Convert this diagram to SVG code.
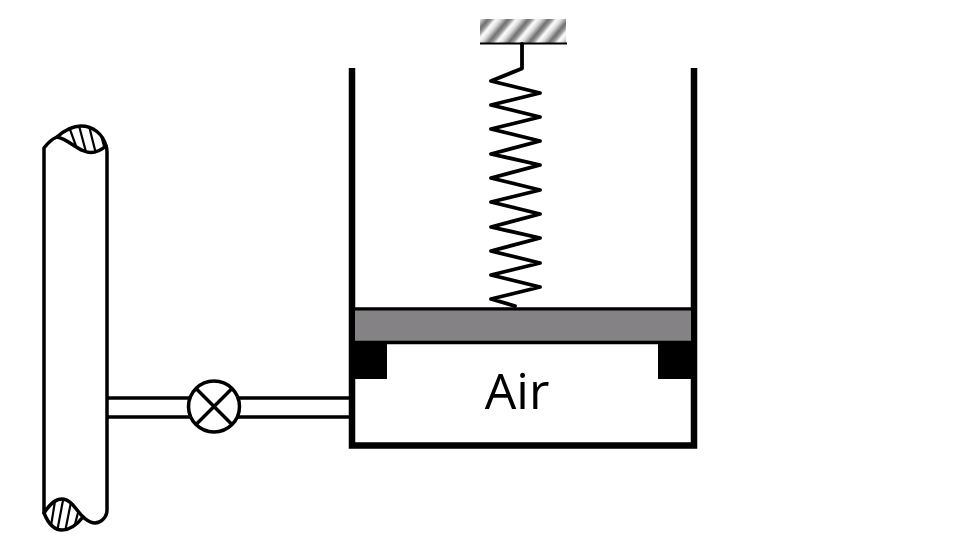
<svg xmlns="http://www.w3.org/2000/svg" width="960" height="540" viewBox="0 0 960 540">
<defs>
<linearGradient id="stripeGrad" x1="0" y1="0" x2="1" y2="0">
<stop offset="0" stop-color="#fff"/><stop offset="0.25" stop-color="#ddd"/><stop offset="0.6" stop-color="#707070"/><stop offset="0.8" stop-color="#999"/><stop offset="1" stop-color="#fff"/>
</linearGradient>
<pattern id="wallHatch" width="15.500" height="15.500" patternUnits="userSpaceOnUse" patternTransform="translate(476 43) rotate(40)">
<rect width="15.500" height="15.500" fill="url(#stripeGrad)"/>
</pattern>
<clipPath id="capTop"><path d="M57 137C66 129 73 126 81 126C93 126 103 134 106 146C99 152 91 154 84 151C74 147 67 139 57 137Z"/></clipPath>
<clipPath id="capBottom"><path d="M44 513C50 504 55 499 62 499C71 499 76 510 83 517C76 526 69 530 62 530C54 530 48 523 44 513Z"/></clipPath>
</defs>
<style>
.ln{fill:none;stroke:#000;stroke-linejoin:round;stroke-linecap:round}
.hatch{fill:none;stroke:#000;stroke-width:2.200}
.lbl{font-family:"Open Sans","Liberation Sans",sans-serif;font-size:50px;fill:#000}
</style>
<rect width="960" height="540" fill="#fff"/>
<g id="connectors">
<path class="ln" style="stroke-linecap:butt" stroke-width="3.500" d="M107 398H190M238 398H349M107 417H190M238 417H349"/>
</g>
<g id="main-pipe">
<path class="ln" stroke-width="3.500" d="M44 513V148C47 144 52 139 57 137C67 139 74 147 84 151C91 154 99 152 106 146C107 148 107 149 107 152V510C107 517 101 523 95 523C90 523 87 520 83 517C76 510 71 499 62 499C55 499 50 504 44 513Z"/>
<path class="ln" stroke-width="3.500" d="M57 137C66 129 73 126 81 126C93 126 103 134 106 146"/>
<path class="ln" stroke-width="3.500" d="M44 513C48 523 54 530 62 530C69 530 76 526 83 517"/>
<g clip-path="url(#capTop)"><path class="hatch" d="M68 124L76 146M78 122L86 152M88 122L96 154M98 124L105 150"/></g>
<g clip-path="url(#capBottom)"><path class="hatch" d="M56 495L50 532M64 495L57 532M72 497L65 532M80 505L73 532"/></g>
</g>
<g id="valve">
<circle cx="214" cy="406.500" r="25.500" fill="#fff" stroke="#000" stroke-width="3.500"/>
<path class="ln" stroke-width="3.500" style="stroke-linecap:butt" d="M196 388.500L232 424.500M232 388.500L196 424.500"/>
</g>
<g id="cylinder">
<path d="M352 68V445.500H694V68" fill="none" stroke="#000" stroke-width="6.500"/>
<rect x="355" y="344" width="32" height="35"/>
<rect x="658" y="344" width="33" height="35"/>
</g>
<g id="piston">
<rect x="355" y="311" width="336" height="30" fill="#848284"/>
<path d="M355 309H691M355 342.500H691" stroke="#000" stroke-width="3.500" fill="none"/>
</g>
<g id="spring">
<rect x="480" y="19" width="86" height="24" fill="url(#wallHatch)"/>
<path d="M480 43.500H567" stroke="#000" stroke-width="2" fill="none"/>
<path class="ln" stroke-width="3.800" d="M522 44V68.500L491 81L540 93L491 105L540 117L491 129L540 141L491 154L540 165L491 178L540 190L491 202L540 214L491 227L540 238L491 251L540 263L491 275L540 287L491 299L515 306"/>
</g>
<g id="air-label">
<text class="lbl" x="517" y="408.500" text-anchor="middle">Air</text>
</g>
</svg>
